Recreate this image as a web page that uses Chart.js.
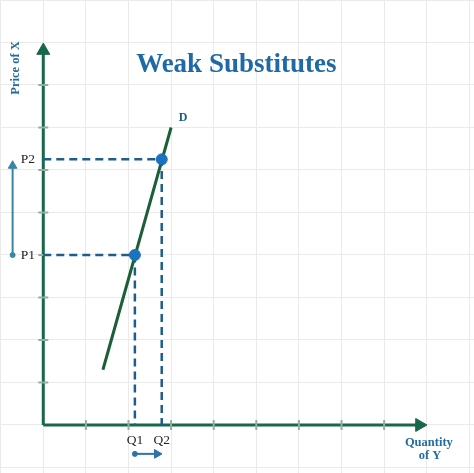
<!DOCTYPE html>
<html lang="en">
<head>
    <meta charset="UTF-8">
    <title>Weak Substitutes</title>
    <script src="https://cdn.jsdelivr.net/npm/chart.js"></script>
    <style>
        html, body {
            margin: 0;
            padding: 0;
            background: #fff;
        }
        .wrap {
            width: 474px;
            height: 473px;
        }
    </style>
</head>
<body>
    <div class="wrap">
        <canvas id="subChart"></canvas>
    </div>

    <script>
        // chart values (grid units, origin at the axes corner)
        const gridSteps = [-1, 0, 1, 2, 3, 4, 5, 6, 7, 8, 9, 10];
        const axisTicks = [1, 2, 3, 4, 5, 6, 7, 8];
        const demandX = [1.4, 3.0];
        const demandY = [1.3, 7.0];
        const qty = [2.15, 2.78];      // Q1, Q2
        const price = [4.0, 6.25];     // P1, P2
        const pointLabels = ['P1', 'P2'];
        const qtyLabels = ['Q1', 'Q2'];

        const axisGreen = '#17684a';
        const dashBlue = '#1e5d8c';
        const labelBlue = '#236ca3';

        // text drawn at data positions
        const textPlugin = {
            id: 'textLabels',
            afterDatasetsDraw(chart) {
                const c = chart.ctx;
                const xs = chart.scales.x, ys = chart.scales.y;
                const put = (txt, x, y, font, color, rot) => {
                    c.save();
                    c.translate(xs.getPixelForValue(x), ys.getPixelForValue(y));
                    if (rot) c.rotate(rot);
                    c.font = font;
                    c.fillStyle = color;
                    c.textAlign = 'center';
                    c.textBaseline = 'middle';
                    c.fillText(txt, 0, 0);
                    c.restore();
                };
                put('Weak Substitutes', 4.53, 8.47, 'bold 27px "Liberation Serif"', '#1f6aa6');
                put('Price of X', -0.65, 8.4, 'bold 12.5px "Liberation Serif"', labelBlue, -Math.PI / 2);
                put('Quantity', 9.05, -0.42, 'bold 12.5px "Liberation Serif"', labelBlue);
                put('of Y', 9.08, -0.72, 'bold 12.5px "Liberation Serif"', labelBlue);
                put('D', demandX[1] + 0.28, demandY[1] + 0.22, 'bold 12px "Liberation Serif"', '#1c5b86');
                pointLabels.forEach((t, i) => put(t, -0.36, price[i], '13.5px "Liberation Serif"', '#222'));
                qtyLabels.forEach((t, i) => put(t, qty[i], -0.37, '13.5px "Liberation Serif"', '#222'));
            }
        };

        const ctx = document.getElementById('subChart').getContext('2d');

        const subChart = new Chart(ctx, {
            type: 'scatter',
            data: {
                datasets: [
                    {
                        // price shift arrow
                        data: [{ x: -0.72, y: price[0] }, { x: -0.72, y: price[1] - 0.15 }],
                        showLine: true,
                        borderColor: '#3a84a6',
                        backgroundColor: '#3a84a6',
                        borderWidth: 2,
                        pointBorderWidth: 1,
                        pointStyle: ['circle', 'triangle'],
                        pointRadius: [2.5, 5],
                        pointRotation: [0, 0],
                        order: 1
                    },
                    {
                        // quantity shift arrow
                        data: [{ x: qty[0], y: -0.68 }, { x: qty[1] - 0.11, y: -0.68 }],
                        showLine: true,
                        borderColor: '#2b74a6',
                        backgroundColor: '#2b74a6',
                        borderWidth: 2,
                        pointBorderWidth: 1,
                        pointStyle: ['circle', 'triangle'],
                        pointRadius: [2.5, 5],
                        pointRotation: [0, 90],
                        order: 1
                    },
                    {
                        // P1 / P2 points
                        data: qty.map((q, i) => ({ x: q, y: price[i] })),
                        backgroundColor: '#1b72bd',
                        borderColor: '#1b72bd',
                        pointRadius: 5.5,
                        order: 2
                    },
                    {
                        // demand curve
                        data: demandX.map((x, i) => ({ x: x, y: demandY[i] })),
                        showLine: true,
                        borderColor: '#1c5e36',
                        borderWidth: 3,
                        pointRadius: 0,
                        order: 3
                    },
                    {
                        data: [{ x: 0, y: price[0] }, { x: qty[0], y: price[0] }, { x: qty[0], y: 0 }],
                        showLine: true,
                        borderColor: dashBlue,
                        borderWidth: 2.5,
                        borderDash: [8, 5],
                        pointRadius: 0,
                        order: 4
                    },
                    {
                        data: [{ x: 0, y: price[1] }, { x: qty[1], y: price[1] }, { x: qty[1], y: 0 }],
                        showLine: true,
                        borderColor: dashBlue,
                        borderWidth: 2.5,
                        borderDash: [8, 5],
                        pointRadius: 0,
                        order: 4
                    },
                    {
                        // tick marks on the axes
                        data: axisTicks.map(v => ({ x: 0, y: v })).concat(axisTicks.map(v => ({ x: v, y: 0 }))),
                        borderColor: '#98aca1',
                        borderWidth: 2,
                        pointStyle: 'line',
                        pointRadius: 5,
                        pointRotation: axisTicks.map(() => 0).concat(axisTicks.map(() => 90)),
                        order: 5
                    },
                    {
                        // y axis with arrow
                        data: [{ x: 0, y: 0 }, { x: 0, y: 8.81 }],
                        showLine: true,
                        borderColor: axisGreen,
                        backgroundColor: axisGreen,
                        borderWidth: 3,
                        pointBorderWidth: 1,
                        pointStyle: 'triangle',
                        pointRadius: [0, 7.5],
                        order: 6
                    },
                    {
                        // x axis with arrow
                        data: [{ x: 0, y: 0 }, { x: 8.83, y: 0 }],
                        showLine: true,
                        borderColor: axisGreen,
                        backgroundColor: axisGreen,
                        borderWidth: 3,
                        pointBorderWidth: 1,
                        pointStyle: 'triangle',
                        pointRadius: [0, 7.5],
                        pointRotation: 90,
                        order: 6
                    }
                ]
            },
            options: {
                responsive: true,
                maintainAspectRatio: false,
                animation: false,
                layout: { padding: 0, autoPadding: false },
                plugins: {
                    legend: { display: false },
                    tooltip: { enabled: false }
                },
                scales: {
                    x: {
                        type: 'linear',
                        min: -1.016,
                        max: 10.11,
                        afterBuildTicks: s => { s.ticks = gridSteps.map(v => ({ value: v })); },
                        ticks: { display: false },
                        grid: { color: '#eaeaea', drawTicks: false },
                        border: { display: false }
                    },
                    y: {
                        type: 'linear',
                        min: -1.13,
                        max: 10,
                        afterBuildTicks: s => { s.ticks = gridSteps.map(v => ({ value: v })); },
                        ticks: { display: false },
                        grid: { color: '#eaeaea', drawTicks: false },
                        border: { display: false }
                    }
                }
            },
            plugins: [textPlugin]
        });
    </script>
</body>
</html>
